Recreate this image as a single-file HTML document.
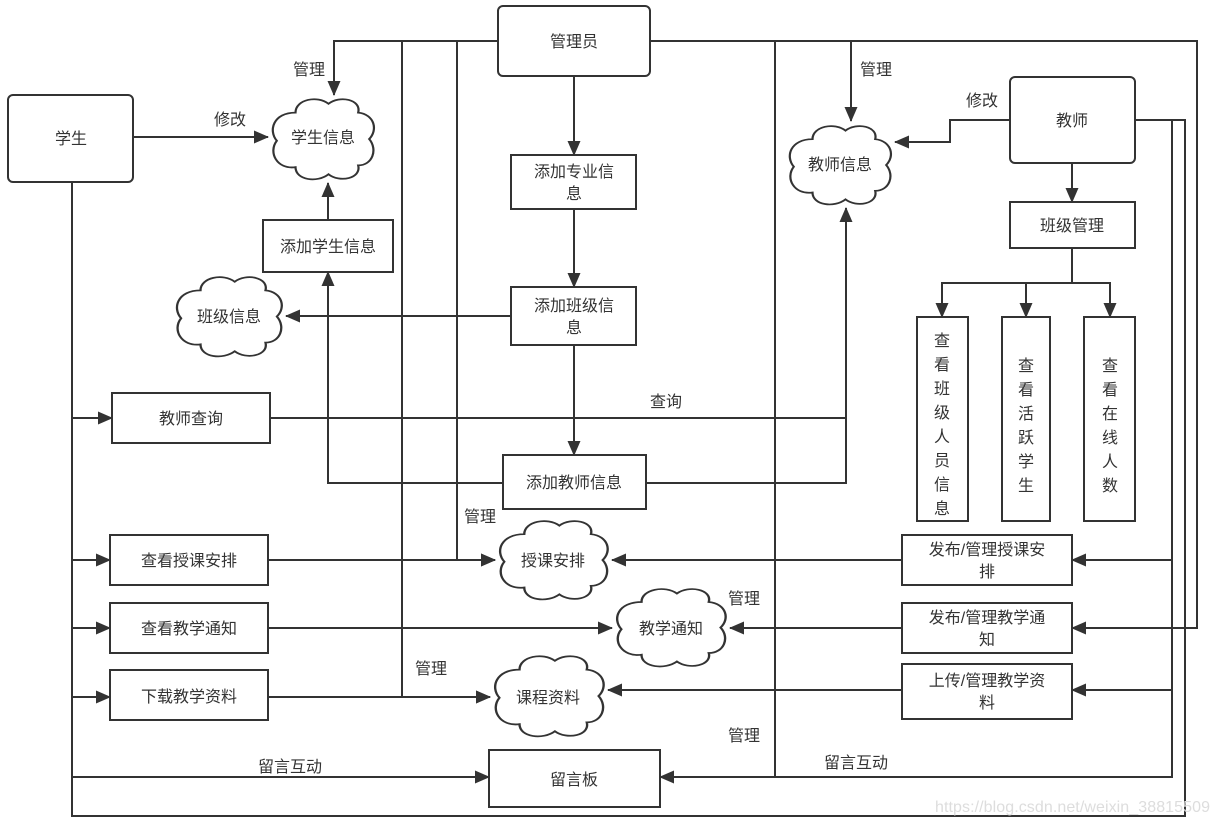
<!DOCTYPE html>
<html><head><meta charset="utf-8"><style>
html,body{margin:0;padding:0;background:#fff}
svg{display:block}
text{font-family:"Liberation Sans","Noto Sans CJK SC",sans-serif;font-size:16px;fill:#333}
</style></head><body>
<svg width="1218" height="824" viewBox="0 0 1218 824" xmlns="http://www.w3.org/2000/svg">
<defs>
<marker id="a" markerUnits="userSpaceOnUse" markerWidth="15" markerHeight="13" refX="14" refY="6.5" orient="auto"><path d="M0,0 L15,6.5 L0,13 Z" fill="#333"/></marker>
<path id="cl" d="M25,20 C25,5 45,0 55,10 C65,0 85,5 82,20 C97,22 100,40 92,50 C100,62 95,80 82,80 C85,95 65,100 55,90 C45,100 25,97 25,82 C8,85 0,65 8,52 C0,40 5,20 25,20 Z"/>
</defs>
<g fill="none" stroke="#333" stroke-width="2">
<rect x="498" y="6" width="152" height="70" rx="5"/>
<rect x="8" y="95" width="125" height="87" rx="5"/>
<rect x="1010" y="77" width="125" height="86" rx="5"/>
<rect x="511" y="155" width="125" height="54"/>
<rect x="511" y="287" width="125" height="58"/>
<rect x="263" y="220" width="130" height="52"/>
<rect x="112" y="393" width="158" height="50"/>
<rect x="503" y="455" width="143" height="54"/>
<rect x="1010" y="202" width="125" height="46"/>
<rect x="917" y="317" width="51" height="204"/>
<rect x="1002" y="317" width="48" height="204"/>
<rect x="1084" y="317" width="51" height="204"/>
<rect x="110" y="535" width="158" height="50"/>
<rect x="110" y="603" width="158" height="50"/>
<rect x="110" y="670" width="158" height="50"/>
<rect x="902" y="535" width="170" height="50"/>
<rect x="902" y="603" width="170" height="50"/>
<rect x="902" y="664" width="170" height="55"/>
<rect x="489" y="750" width="171" height="57"/>
<g>
<use href="#cl" transform="translate(268,95) scale(1.10,0.88)"/>
<use href="#cl" transform="translate(172,273) scale(1.14,0.87)"/>
<use href="#cl" transform="translate(785,122) scale(1.10,0.86)"/>
<use href="#cl" transform="translate(495,517) scale(1.17,0.86)"/>
<use href="#cl" transform="translate(612,585) scale(1.18,0.85)"/>
<use href="#cl" transform="translate(490,652) scale(1.18,0.88)"/>
</g>
<polyline points="498,41 334,41 334,95" marker-end="url(#a)"/>
<polyline points="402,41 402,697 490,697" marker-end="url(#a)"/>
<polyline points="457,41 457,560 495,560" marker-end="url(#a)"/>
<polyline points="650,41 1197,41 1197,628 1072,628" marker-end="url(#a)"/>
<polyline points="851,41 851,121" marker-end="url(#a)"/>
<polyline points="775,41 775,777"/>
<line x1="574" y1="76" x2="574" y2="155" marker-end="url(#a)"/>
<line x1="574" y1="209" x2="574" y2="287" marker-end="url(#a)"/>
<line x1="574" y1="345" x2="574" y2="455" marker-end="url(#a)"/>
<line x1="511" y1="316" x2="286" y2="316" marker-end="url(#a)"/>
<polyline points="503,483 328,483 328,272" marker-end="url(#a)"/>
<line x1="328" y1="220" x2="328" y2="183" marker-end="url(#a)"/>
<polyline points="646,483 846,483 846,208" marker-end="url(#a)"/>
<line x1="270" y1="418" x2="846" y2="418"/>
<line x1="133" y1="137" x2="268" y2="137" marker-end="url(#a)"/>
<polyline points="1010,120 950,120 950,142 895,142" marker-end="url(#a)"/>
<line x1="1072" y1="163" x2="1072" y2="202" marker-end="url(#a)"/>
<polyline points="1072,248 1072,283 942,283 942,317" marker-end="url(#a)"/>
<polyline points="1026,283 1026,317" marker-end="url(#a)"/>
<polyline points="1072,283 1110,283 1110,317" marker-end="url(#a)"/>
<polyline points="1135,120 1185,120 1185,816 72,816 72,182"/>
<polyline points="1172,120 1172,777 660,777" marker-end="url(#a)"/>
<line x1="1172" y1="560" x2="1072" y2="560" marker-end="url(#a)"/>
<line x1="1172" y1="690" x2="1072" y2="690" marker-end="url(#a)"/>
<line x1="902" y1="560" x2="612" y2="560" marker-end="url(#a)"/>
<line x1="902" y1="628" x2="730" y2="628" marker-end="url(#a)"/>
<line x1="902" y1="690" x2="608" y2="690" marker-end="url(#a)"/>
<line x1="72" y1="418" x2="112" y2="418" marker-end="url(#a)"/>
<line x1="72" y1="560" x2="110" y2="560" marker-end="url(#a)"/>
<line x1="72" y1="628" x2="110" y2="628" marker-end="url(#a)"/>
<line x1="72" y1="697" x2="110" y2="697" marker-end="url(#a)"/>
<line x1="72" y1="777" x2="489" y2="777" marker-end="url(#a)"/>
<line x1="268" y1="560" x2="495" y2="560" marker-end="url(#a)"/>
<line x1="268" y1="628" x2="612" y2="628" marker-end="url(#a)"/>
<line x1="268" y1="697" x2="490" y2="697" marker-end="url(#a)"/>
</g>
<g text-anchor="middle">
<text x="574" y="47">管理员</text>
<text x="71" y="144">学生</text>
<text x="1072" y="126">教师</text>
<text x="574" y="177">添加专业信</text><text x="574" y="199">息</text>
<text x="574" y="311">添加班级信</text><text x="574" y="333">息</text>
<text x="328" y="252">添加学生信息</text>
<text x="191" y="424">教师查询</text>
<text x="574" y="488">添加教师信息</text>
<text x="1072" y="231">班级管理</text>
<text x="189" y="566">查看授课安排</text>
<text x="189" y="634">查看教学通知</text>
<text x="189" y="702">下载教学资料</text>
<text x="987" y="555">发布/管理授课安</text><text x="987" y="577">排</text>
<text x="987" y="623">发布/管理教学通</text><text x="987" y="645">知</text>
<text x="987" y="686">上传/管理教学资</text><text x="987" y="708">料</text>
<text x="574" y="785">留言板</text>
<text x="323" y="143">学生信息</text>
<text x="229" y="322">班级信息</text>
<text x="840" y="170">教师信息</text>
<text x="553" y="566">授课安排</text>
<text x="671" y="634">教学通知</text>
<text x="548" y="703">课程资料</text>
<text x="309" y="75">管理</text>
<text x="876" y="75">管理</text>
<text x="230" y="125">修改</text>
<text x="982" y="106">修改</text>
<text x="666" y="407">查询</text>
<text x="480" y="522">管理</text>
<text x="744" y="604">管理</text>
<text x="431" y="674">管理</text>
<text x="744" y="741">管理</text>
<text x="290" y="772">留言互动</text>
<text x="856" y="768">留言互动</text>
</g>
<g text-anchor="middle">
<text x="942" y="346">查</text><text x="942" y="370">看</text><text x="942" y="394">班</text><text x="942" y="418">级</text><text x="942" y="442">人</text><text x="942" y="466">员</text><text x="942" y="490">信</text><text x="942" y="514">息</text>
<text x="1026" y="371">查</text><text x="1026" y="395">看</text><text x="1026" y="419">活</text><text x="1026" y="443">跃</text><text x="1026" y="467">学</text><text x="1026" y="491">生</text>
<text x="1110" y="371">查</text><text x="1110" y="395">看</text><text x="1110" y="419">在</text><text x="1110" y="443">线</text><text x="1110" y="467">人</text><text x="1110" y="491">数</text>
</g>
<text x="935" y="812" textLength="275" style="fill:#ddd;font-size:16px">https://blog.csdn.net/weixin_38815509</text>
</svg>
</body></html>
